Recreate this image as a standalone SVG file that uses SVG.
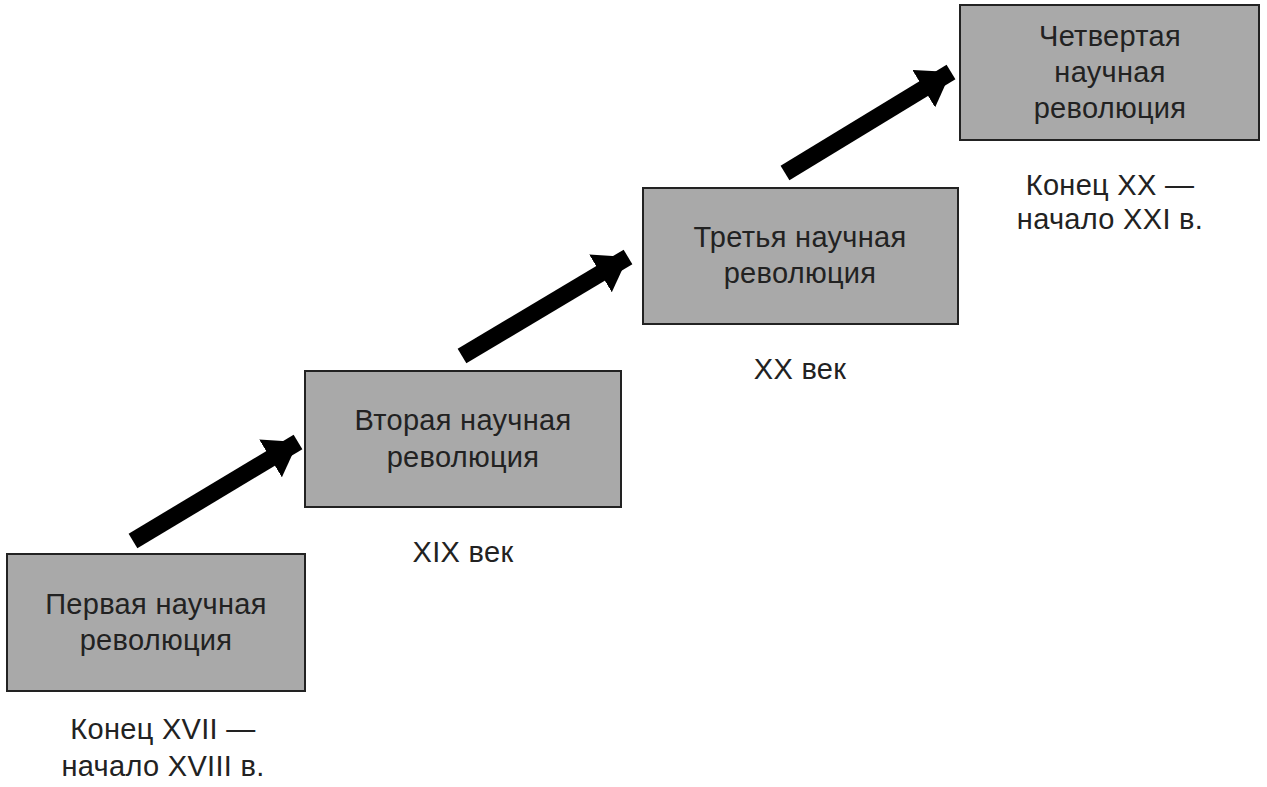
<svg xmlns="http://www.w3.org/2000/svg" width="1267" height="787" viewBox="0 0 1267 787">
<style>
.box{fill:#a9a9a9;stroke:#222;stroke-width:2}
text{font-family:"Liberation Sans",Arial,sans-serif;font-size:29px;fill:#222;text-anchor:middle;letter-spacing:0.3px}
.arr{stroke:#000;stroke-width:17;fill:none}
</style>
<defs>
<marker id="ah" markerUnits="userSpaceOnUse" markerWidth="40" markerHeight="44" refX="32" refY="22" orient="auto" viewBox="0 0 40 44">
<path d="M0,0 L32,22 L0,44 z" fill="#000"/>
</marker>
</defs>
<rect width="1267" height="787" fill="#fff"/>
<g id="connectors">
<line class="arr" x1="133" y1="541" x2="298" y2="442" marker-end="url(#ah)"/>
<line class="arr" x1="462" y1="356" x2="628" y2="257" marker-end="url(#ah)"/>
<line class="arr" x1="785" y1="173" x2="951" y2="72" marker-end="url(#ah)"/>
</g>
<g id="n1"><rect class="box" x="7" y="554" width="298" height="137"/>
<text x="156" y="614">Первая научная</text><text x="156" y="650">революция</text></g>
<g id="n2"><rect class="box" x="305" y="371" width="316" height="136"/>
<text x="463" y="430">Вторая научная</text><text x="463" y="467">революция</text></g>
<g id="n3"><rect class="box" x="643" y="188" width="315" height="136"/>
<text x="800" y="247">Третья научная</text><text x="800" y="283">революция</text></g>
<g id="n4"><rect class="box" x="960" y="5" width="299" height="135"/>
<text x="1110" y="46">Четвертая</text><text x="1110" y="82">научная</text><text x="1110" y="118">революция</text></g>
<g id="captions">
<text x="163" y="739">Конец XVII —</text><text x="163" y="776">начало XVIII в.</text>
<text x="463" y="562">XIX век</text>
<text x="800" y="379">XX век</text>
<text x="1110" y="195">Конец XX —</text><text x="1110" y="229">начало XXI в.</text>
</g>
</svg>
